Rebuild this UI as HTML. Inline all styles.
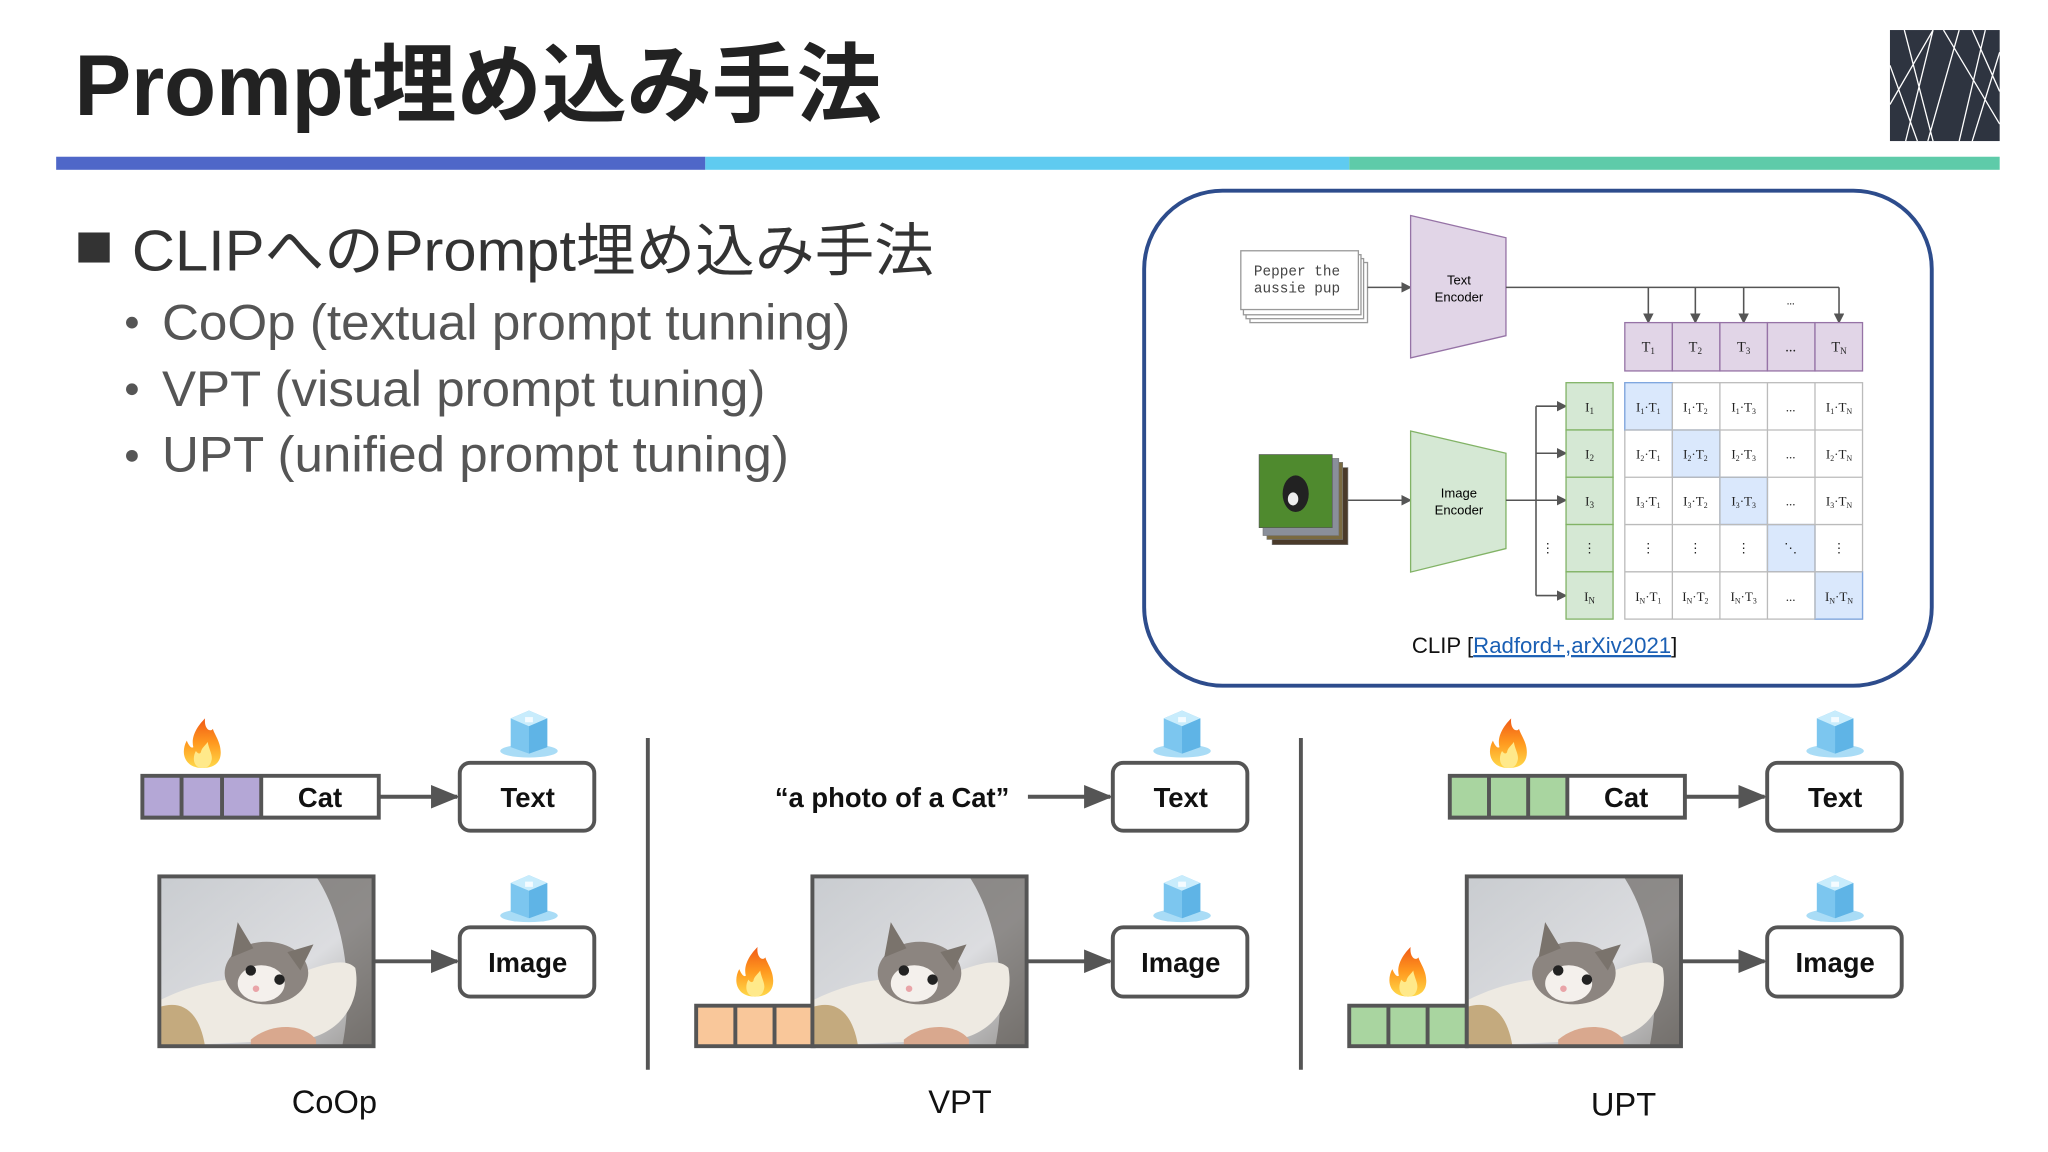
<!DOCTYPE html>
<html><head><meta charset="utf-8"><style>html,body{margin:0;padding:0;background:#fff}svg{display:block}</style></head>
<body>
<svg xmlns="http://www.w3.org/2000/svg" width="2048" height="1152" viewBox="0 0 1568 882">
<defs>
<marker id="ah" markerWidth="8" markerHeight="8" refX="7" refY="4" orient="auto" markerUnits="userSpaceOnUse"><path d="M0,0 L8,4 L0,8 Z" fill="#555"/></marker>
<marker id="ab" markerWidth="22" markerHeight="18" refX="20" refY="9" orient="auto" markerUnits="userSpaceOnUse"><path d="M0,0 L22,9 L0,18 Z" fill="#555"/></marker>
<linearGradient id="fg" x1="0" y1="1" x2="0" y2="0"><stop offset="0" stop-color="#ffd94a"/><stop offset="0.5" stop-color="#ff9a1f"/><stop offset="1" stop-color="#f05a16"/></linearGradient>
<g id="fire"><path d="M0,18 C-14,18 -17,6 -12,-3 C-10,2 -8,3 -7,2 C-9,-6 -4,-14 2,-20 C1,-12 6,-9 8,-12 C9,-8 14,-2 14,6 C14,14 9,18 0,18 Z" fill="url(#fg)"/><path d="M0,18 C-7,18 -8,10 -5,5 C-3,8 -1,7 -1,5 C0,2 3,0 4,-2 C5,4 8,8 7,12 C6,16 4,18 0,18Z" fill="#ffe98a"/></g>
<g id="ice"><ellipse cx="0" cy="13" rx="22" ry="5" fill="#a9dcf6"/><path d="M-14,-12 L0,-18 L14,-12 L14,10 L0,15 L-14,10 Z" fill="#7cc6ef"/><path d="M-14,-12 L0,-18 L14,-12 L0,-6 Z" fill="#c8ecfc"/><path d="M0,-6 L14,-12 L14,10 L0,15 Z" fill="#5fb4e6"/><path d="M-3,-13 L3,-13 L3,-9 L-3,-9Z" fill="#fff" opacity=".8"/></g>
<linearGradient id="bg1" x1="0" y1="0" x2="1" y2="1"><stop offset="0" stop-color="#c9ccd0"/><stop offset="0.6" stop-color="#dcdde0"/><stop offset="1" stop-color="#9a9896"/></linearGradient>
<g id="cat">
<rect x="0" y="0" width="164" height="130" fill="url(#bg1)"/>
<path d="M120,0 L164,0 L164,130 L140,130 C150,80 140,30 120,0Z" fill="#5a5550" opacity=".6"/>
<path d="M0,95 C30,80 60,75 90,80 C120,70 140,60 150,70 C155,95 140,120 110,125 L0,130Z" fill="#eeeae2"/>
<path d="M0,100 C15,95 30,100 35,130 L0,130Z" fill="#c4aa7e"/>
<path d="M70,125 C85,112 110,112 120,125 L120,130 L70,130Z" fill="#d9a88e"/>
<ellipse cx="82" cy="74" rx="32" ry="24" fill="#8c8580"/>
<ellipse cx="78" cy="82" rx="18" ry="14" fill="#f4f0ec"/>
<path d="M55,62 L60,35 L72,55Z" fill="#7a736c"/>
<path d="M98,58 L118,52 L108,72Z" fill="#7a736c"/>
<circle cx="70" cy="72" r="4" fill="#222"/><circle cx="92" cy="79" r="4" fill="#222"/>
<circle cx="74" cy="86" r="2.5" fill="#e9a4a8"/>
</g>
</defs>

<text x="57" y="88" font-family="Liberation Sans, Noto Sans CJK JP, sans-serif" font-weight="bold" font-size="66" fill="#222" textLength="618" lengthAdjust="spacingAndGlyphs">Prompt埋め込み手法</text>
<rect x="1447" y="23" width="84" height="85" fill="#2e3440"/>
<g stroke="#fff" stroke-width="1" fill="none"><path d="M1458,23 L1480,108 M1480,23 L1459,108 M1500,23 L1476,108 M1447,50 L1468,108 M1520,23 L1500,108 M1488,23 L1531,95 M1531,40 L1510,108 M1447,80 L1480,23 M1510,23 L1531,70"/></g>
<rect x="43" y="120" width="497" height="10" fill="#4f67c8"/>
<rect x="540" y="120" width="493" height="10" fill="#5fcbf0"/>
<rect x="1033" y="120" width="498" height="10" fill="#5ecba9"/>

<rect x="60" y="178" width="24" height="23" fill="#333"/>
<text x="101" y="207" font-family="Liberation Sans, Noto Sans CJK JP, sans-serif" font-size="44" fill="#333" textLength="614" lengthAdjust="spacingAndGlyphs">CLIPへのPrompt埋め込み手法</text>
<g font-family="Liberation Sans, sans-serif" font-size="38" fill="#555">
<circle cx="101" cy="247" r="4.5"/><text x="124" y="260" textLength="527" lengthAdjust="spacingAndGlyphs">CoOp (textual prompt tunning)</text>
<circle cx="101" cy="298" r="4.5"/><text x="124" y="311" textLength="462" lengthAdjust="spacingAndGlyphs">VPT (visual prompt tuning)</text>
<circle cx="101" cy="349" r="4.5"/><text x="124" y="361" textLength="480" lengthAdjust="spacingAndGlyphs">UPT (unified prompt tuning)</text>
</g>

<rect x="876" y="146" width="603" height="379" rx="60" fill="#fff" stroke="#2d4c8c" stroke-width="3"/>
<g stroke="#999" stroke-width="1" fill="#fff">
<rect x="957" y="201" width="90" height="46"/><rect x="954" y="198" width="90" height="46"/><rect x="952" y="195" width="90" height="46"/><rect x="950" y="192" width="90" height="45"/>
</g>
<text x="993" y="211" font-family="Liberation Mono, monospace" font-size="11" fill="#444" text-anchor="middle">Pepper the</text>
<text x="993" y="224" font-family="Liberation Mono, monospace" font-size="11" fill="#444" text-anchor="middle">aussie pup</text>
<line x1="1047" y1="220" x2="1080" y2="220" stroke="#555" stroke-width="1.2" marker-end="url(#ah)"/>
<path d="M1080,165 L1153,182 L1153,257 L1080,274 Z" fill="#e1d5e7" stroke="#9673a6" stroke-width="1"/>
<text x="1117" y="218" font-family="Liberation Sans, sans-serif" font-size="10" text-anchor="middle">Text</text>
<text x="1117" y="231" font-family="Liberation Sans, sans-serif" font-size="10" text-anchor="middle">Encoder</text>
<g stroke="#555" stroke-width="1.2" fill="none">
<path d="M1153,220 L1408,220"/>
<line x1="1262" y1="220" x2="1262" y2="247" marker-end="url(#ah)"/>
<line x1="1298" y1="220" x2="1298" y2="247" marker-end="url(#ah)"/>
<line x1="1335" y1="220" x2="1335" y2="247" marker-end="url(#ah)"/>
<line x1="1408" y1="220" x2="1408" y2="247" marker-end="url(#ah)"/>
</g>
<text x="1371" y="233" font-size="8" text-anchor="middle" font-family="Liberation Serif, serif">...</text>
<g fill="#e1d5e7" stroke="#9673a6" stroke-width="1">
<rect x="1244" y="247" width="36.4" height="37"/><rect x="1280.4" y="247" width="36.4" height="37"/><rect x="1316.8" y="247" width="36.4" height="37"/><rect x="1353.2" y="247" width="36.4" height="37"/><rect x="1389.6" y="247" width="36.4" height="37"/>
</g>
<g font-family="Liberation Serif, serif" font-size="11" text-anchor="middle" fill="#222">
<text x="1262" y="269">T<tspan font-size="7" dy="2">1</tspan></text>
<text x="1298" y="269">T<tspan font-size="7" dy="2">2</tspan></text>
<text x="1335" y="269">T<tspan font-size="7" dy="2">3</tspan></text>
<text x="1371" y="269">...</text>
<text x="1408" y="269">T<tspan font-size="7" dy="2">N</tspan></text>
</g>
<rect x="974" y="358" width="58" height="59" fill="#4a3a2a" stroke="#777" stroke-width=".5"/>
<rect x="970" y="354" width="58" height="59" fill="#7a6a40" stroke="#777" stroke-width=".5"/>
<rect x="967" y="351" width="58" height="59" fill="#8a8f9a" stroke="#777" stroke-width=".5"/>
<rect x="964" y="348" width="56" height="56" fill="#4f8a2e" stroke="#555" stroke-width=".5"/>
<ellipse cx="992" cy="378" rx="10" ry="14" fill="#222"/><ellipse cx="990" cy="382" rx="4" ry="5" fill="#eee"/>
<line x1="1032" y1="383" x2="1080" y2="383" stroke="#555" stroke-width="1.2" marker-end="url(#ah)"/>
<path d="M1080,330 L1153,347 L1153,420 L1080,438 Z" fill="#d5e8d4" stroke="#82b366" stroke-width="1"/>
<text x="1117" y="381" font-family="Liberation Sans, sans-serif" font-size="10" text-anchor="middle">Image</text>
<text x="1117" y="394" font-family="Liberation Sans, sans-serif" font-size="10" text-anchor="middle">Encoder</text>
<g stroke="#555" stroke-width="1.2" fill="none">
<path d="M1153,383 L1176,383 M1176,311 L1176,456"/>
<line x1="1176" y1="311" x2="1199" y2="311" marker-end="url(#ah)"/>
<line x1="1176" y1="347" x2="1199" y2="347" marker-end="url(#ah)"/>
<line x1="1176" y1="383" x2="1199" y2="383" marker-end="url(#ah)"/>
<line x1="1176" y1="456" x2="1199" y2="456" marker-end="url(#ah)"/>
</g>
<g fill="#d5e8d4" stroke="#82b366" stroke-width="1">
<rect x="1199" y="293" width="36" height="36.2"/><rect x="1199" y="329.2" width="36" height="36.2"/><rect x="1199" y="365.4" width="36" height="36.2"/><rect x="1199" y="401.6" width="36" height="36.2"/><rect x="1199" y="437.8" width="36" height="36.2"/>
</g>
<g stroke="#bbb" stroke-width="1">
<rect x="1244" y="293" width="182" height="181" fill="#fff"/>
<g fill="#dae8fc" stroke="#7ea6e0">
<rect x="1244" y="293" width="36.4" height="36.2"/><rect x="1280.4" y="329.2" width="36.4" height="36.2"/><rect x="1316.8" y="365.4" width="36.4" height="36.2"/><rect x="1353.2" y="401.6" width="36.4" height="36.2"/><rect x="1389.6" y="437.8" width="36.4" height="36.2"/>
</g>
<path d="M1280.4,293V474M1316.8,293V474M1353.2,293V474M1389.6,293V474M1244,329.2H1426M1244,365.4H1426M1244,401.6H1426M1244,437.8H1426" fill="none"/>
</g>
<g font-family="Liberation Serif, serif" font-size="10" text-anchor="middle" fill="#222">
<text x="1217" y="315">I<tspan font-size="7" dy="2">1</tspan></text>
<text x="1217" y="351">I<tspan font-size="7" dy="2">2</tspan></text>
<text x="1217" y="387">I<tspan font-size="7" dy="2">3</tspan></text>
<text x="1217" y="423">⋮</text><text x="1185" y="423">⋮</text>
<text x="1217" y="460">I<tspan font-size="7" dy="2">N</tspan></text>
<text x="1262" y="315">I<tspan font-size="6" dy="2">1</tspan><tspan dy="-2">·T</tspan><tspan font-size="6" dy="2">1</tspan></text>
<text x="1298" y="315">I<tspan font-size="6" dy="2">1</tspan><tspan dy="-2">·T</tspan><tspan font-size="6" dy="2">2</tspan></text>
<text x="1335" y="315">I<tspan font-size="6" dy="2">1</tspan><tspan dy="-2">·T</tspan><tspan font-size="6" dy="2">3</tspan></text>
<text x="1371" y="315">...</text>
<text x="1408" y="315">I<tspan font-size="6" dy="2">1</tspan><tspan dy="-2">·T</tspan><tspan font-size="6" dy="2">N</tspan></text>
<text x="1262" y="351">I<tspan font-size="6" dy="2">2</tspan><tspan dy="-2">·T</tspan><tspan font-size="6" dy="2">1</tspan></text>
<text x="1298" y="351">I<tspan font-size="6" dy="2">2</tspan><tspan dy="-2">·T</tspan><tspan font-size="6" dy="2">2</tspan></text>
<text x="1335" y="351">I<tspan font-size="6" dy="2">2</tspan><tspan dy="-2">·T</tspan><tspan font-size="6" dy="2">3</tspan></text>
<text x="1371" y="351">...</text>
<text x="1408" y="351">I<tspan font-size="6" dy="2">2</tspan><tspan dy="-2">·T</tspan><tspan font-size="6" dy="2">N</tspan></text>
<text x="1262" y="387">I<tspan font-size="6" dy="2">3</tspan><tspan dy="-2">·T</tspan><tspan font-size="6" dy="2">1</tspan></text>
<text x="1298" y="387">I<tspan font-size="6" dy="2">3</tspan><tspan dy="-2">·T</tspan><tspan font-size="6" dy="2">2</tspan></text>
<text x="1335" y="387">I<tspan font-size="6" dy="2">3</tspan><tspan dy="-2">·T</tspan><tspan font-size="6" dy="2">3</tspan></text>
<text x="1371" y="387">...</text>
<text x="1408" y="387">I<tspan font-size="6" dy="2">3</tspan><tspan dy="-2">·T</tspan><tspan font-size="6" dy="2">N</tspan></text>
<text x="1262" y="423">⋮</text><text x="1298" y="423">⋮</text><text x="1335" y="423">⋮</text><text x="1371" y="423">⋱</text><text x="1408" y="423">⋮</text>
<text x="1262" y="460">I<tspan font-size="6" dy="2">N</tspan><tspan dy="-2">·T</tspan><tspan font-size="6" dy="2">1</tspan></text>
<text x="1298" y="460">I<tspan font-size="6" dy="2">N</tspan><tspan dy="-2">·T</tspan><tspan font-size="6" dy="2">2</tspan></text>
<text x="1335" y="460">I<tspan font-size="6" dy="2">N</tspan><tspan dy="-2">·T</tspan><tspan font-size="6" dy="2">3</tspan></text>
<text x="1371" y="460">...</text>
<text x="1408" y="460">I<tspan font-size="6" dy="2">N</tspan><tspan dy="-2">·T</tspan><tspan font-size="6" dy="2">N</tspan></text>
</g>
<text x="1081" y="500" font-family="Liberation Sans, sans-serif" font-size="17" fill="#111">CLIP [<tspan fill="#1a5fb4" text-decoration="underline">Radford+,arXiv2021</tspan>]</text>

<line x1="496" y1="565" x2="496" y2="819" stroke="#555" stroke-width="3"/>
<line x1="996" y1="565" x2="996" y2="819" stroke="#555" stroke-width="3"/>

<g font-family="Liberation Sans, sans-serif" font-weight="bold" font-size="21" fill="#111" text-anchor="middle">
<use href="#fire" x="155" y="570"/>
<rect x="109" y="594" width="91" height="32" fill="#b4a7d6"/>
<rect x="200" y="594" width="90" height="32" fill="#fff"/>
<path d="M109,594 H290 V626 H109 Z M139,594 V626 M170,594 V626 M200,594 V626" fill="none" stroke="#555" stroke-width="3"/>
<text x="245" y="618">Cat</text>
<line x1="290" y1="610" x2="350" y2="610" stroke="#555" stroke-width="3" marker-end="url(#ab)"/>
<use href="#ice" x="405" y="562"/>
<rect x="352" y="584" width="103" height="52" rx="8" fill="#fff" stroke="#555" stroke-width="3"/>
<text x="404" y="618">Text</text>
<use href="#cat" x="122" y="671"/>
<rect x="122" y="671" width="164" height="130" fill="none" stroke="#555" stroke-width="3"/>
<line x1="286" y1="736" x2="350" y2="736" stroke="#555" stroke-width="3" marker-end="url(#ab)"/>
<use href="#ice" x="405" y="688"/>
<rect x="352" y="710" width="103" height="53" rx="8" fill="#fff" stroke="#555" stroke-width="3"/>
<text x="404" y="744">Image</text>

<text x="683" y="618">“a photo of a Cat”</text>
<line x1="787" y1="610" x2="850" y2="610" stroke="#555" stroke-width="3" marker-end="url(#ab)"/>
<use href="#ice" x="905" y="562"/>
<rect x="852" y="584" width="103" height="52" rx="8" fill="#fff" stroke="#555" stroke-width="3"/>
<text x="904" y="618">Text</text>
<use href="#fire" x="578" y="745"/>
<rect x="533" y="770" width="90" height="31" fill="#f9c79a"/>
<path d="M533,770 H623 V801 H533 Z M563,770 V801 M593,770 V801" fill="none" stroke="#555" stroke-width="3"/>
<use href="#cat" x="622" y="671"/>
<rect x="622" y="671" width="164" height="130" fill="none" stroke="#555" stroke-width="3"/>
<line x1="786" y1="736" x2="850" y2="736" stroke="#555" stroke-width="3" marker-end="url(#ab)"/>
<use href="#ice" x="905" y="688"/>
<rect x="852" y="710" width="103" height="53" rx="8" fill="#fff" stroke="#555" stroke-width="3"/>
<text x="904" y="744">Image</text>

<use href="#fire" x="1155" y="570"/>
<rect x="1110" y="594" width="90" height="32" fill="#a9d5a0"/>
<rect x="1200" y="594" width="90" height="32" fill="#fff"/>
<path d="M1110,594 H1290 V626 H1110 Z M1140,594 V626 M1170,594 V626 M1200,594 V626" fill="none" stroke="#555" stroke-width="3"/>
<text x="1245" y="618">Cat</text>
<line x1="1290" y1="610" x2="1351" y2="610" stroke="#555" stroke-width="3" marker-end="url(#ab)"/>
<use href="#ice" x="1405" y="562"/>
<rect x="1353" y="584" width="103" height="52" rx="8" fill="#fff" stroke="#555" stroke-width="3"/>
<text x="1405" y="618">Text</text>
<use href="#fire" x="1078" y="745"/>
<rect x="1033" y="770" width="90" height="31" fill="#a9d5a0"/>
<path d="M1033,770 H1123 V801 H1033 Z M1063,770 V801 M1093,770 V801" fill="none" stroke="#555" stroke-width="3"/>
<use href="#cat" x="1123" y="671"/>
<rect x="1123" y="671" width="164" height="130" fill="none" stroke="#555" stroke-width="3"/>
<line x1="1287" y1="736" x2="1351" y2="736" stroke="#555" stroke-width="3" marker-end="url(#ab)"/>
<use href="#ice" x="1405" y="688"/>
<rect x="1353" y="710" width="103" height="53" rx="8" fill="#fff" stroke="#555" stroke-width="3"/>
<text x="1405" y="744">Image</text>
</g>
<g font-family="Liberation Sans, sans-serif" font-size="25" fill="#111" text-anchor="middle">
<text x="256" y="852">CoOp</text>
<text x="735" y="852">VPT</text>
<text x="1243" y="854">UPT</text>
</g>
</svg>
</body></html>
